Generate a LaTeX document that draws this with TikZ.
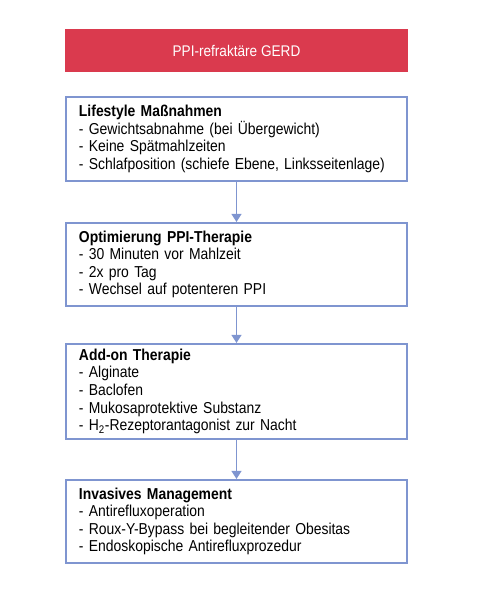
\documentclass[tikz,border=0pt]{standalone}
\usepackage{fontspec}
\setmainfont[FakeStretch=0.88]{Liberation Sans}
\usepackage[HTML]{xcolor}
\usetikzlibrary{positioning, arrows.meta}
\definecolor{gerdred}{HTML}{DA3A4E}
\definecolor{boxblue}{HTML}{7F95D0}
\tikzset{
  stepbox/.style={draw=boxblue, line width=1.6pt, fill=white, minimum width=10.23cm,
    text width=9.45cm, align=left, inner xsep=0.39cm, inner ysep=0pt,
    font=\fontsize{13.5}{15}\selectfont, anchor=north},
  flow/.style={draw=boxblue, line width=1.5pt, -{Triangle[length=7pt, width=8.5pt]}}
}

\begin{document}
\begin{tikzpicture}[x=0.03cm, y=-0.03cm]
\useasboundingbox (0,0) rectangle (480,593);

% title
\node[fill=gerdred, minimum width=10.26cm, minimum height=1.29cm, text=white,
  font=\fontsize{13.2}{15}\selectfont] (gerd) at (236.5,50.5) {PPI-refraktäre GERD};

% steps
\node[stepbox, minimum height=2.52cm] (lifestyle) at (236.5,96)
  {\textbf{Lifestyle Maßnahmen}\\
   - Gewichtsabnahme (bei Übergewicht)\\
   - Keine Spätmahlzeiten\\
   - Schlafposition (schiefe Ebene, Linksseitenlage)};
\node[stepbox, minimum height=2.49cm] (ppi) at (236.5,222)
  {\textbf{Optimierung PPI-Therapie}\\
   - 30 Minuten vor Mahlzeit\\
   - 2x pro Tag\\
   - Wechsel auf potenteren PPI};
\node[stepbox, minimum height=2.85cm] (addon) at (236.5,343)
  {\textbf{Add-on Therapie}\\
   - Alginate\\
   - Baclofen\\
   - Mukosaprotektive Substanz\\
   - H\textsubscript{2}-Rezeptorantagonist zur Nacht};
\node[stepbox, minimum height=2.49cm] (invasiv) at (236.5,479)
  {\textbf{Invasives Management}\\
   - Antirefluxoperation\\
   - Roux-Y-Bypass bei begleitender Obesitas\\
   - Endoskopische Antirefluxprozedur};

% arrows
\draw[flow] (lifestyle) -- (ppi);
\draw[flow] (ppi) -- (addon);
\draw[flow] (addon) -- (invasiv);
\end{tikzpicture}
\end{document}
